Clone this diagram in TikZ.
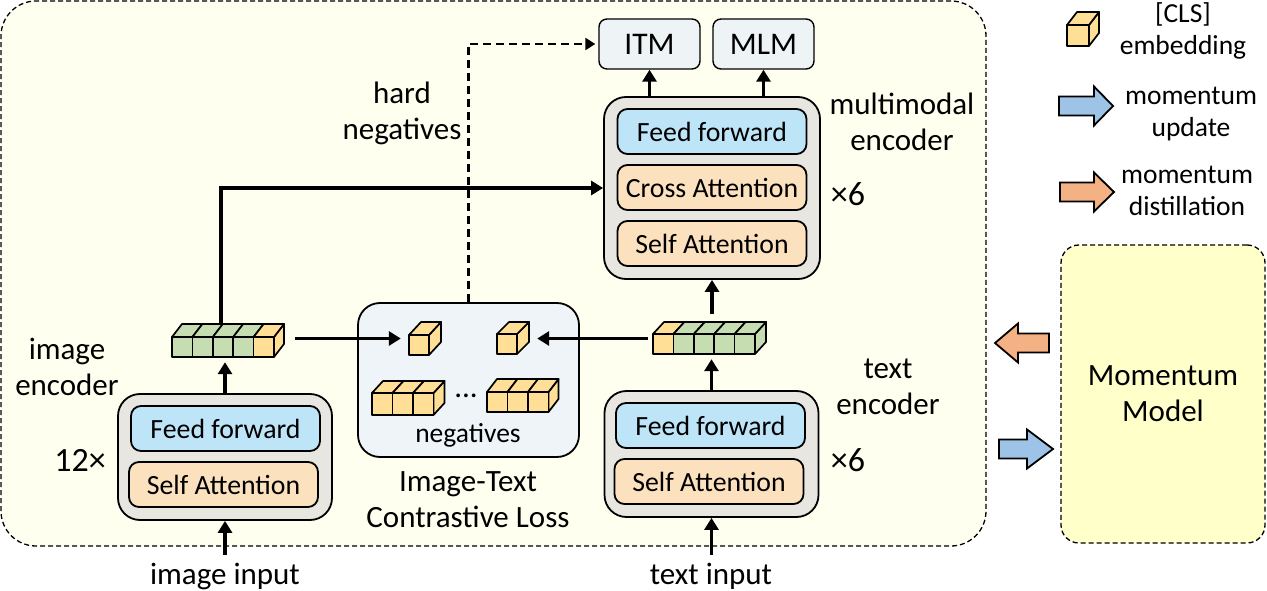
\documentclass[tikz,border=0pt]{standalone}
\usepackage{fontspec}
\setmainfont{Carlito}
\usetikzlibrary{arrows.meta}
\definecolor{regionbg}{HTML}{FFFFF0}
\definecolor{momentumbg}{HTML}{FFFFC9}
\definecolor{encoderbg}{HTML}{E7E6E1}
\definecolor{lossbg}{HTML}{EEF4F7}
\definecolor{headbg}{HTML}{EEF3F5}
\definecolor{feedbg}{HTML}{BEE4F8}
\definecolor{attnbg}{HTML}{FCE1BF}
\definecolor{cubeY}{HTML}{FFDF95}
\definecolor{cubeG}{HTML}{C6DDB2}
\definecolor{arrowB}{HTML}{9DC3E6}
\definecolor{arrowO}{HTML}{F4B183}
\tikzset{
  x=1pt, y=-1pt,
  lbl/.style={align=center, inner sep=0pt, font=\fontsize{31}{36}\selectfont},
  leglbl/.style={align=center, inner sep=0pt, font=\fontsize{27.5}{32}\selectfont},
  timeslbl/.style={inner sep=0pt, font=\fontsize{34}{36}\selectfont},
  enc/.style={draw, line width=1.8pt, rounded corners=22pt, fill=encoderbg, minimum width=#1, minimum height=126pt, inner sep=0pt},
  layer/.style={draw, line width=1.8pt, rounded corners=10pt, minimum width=189pt, minimum height=45pt, inner sep=0pt, font=\fontsize{27.8}{32}\selectfont},
  headbox/.style={draw, line width=1.4pt, rounded corners=8pt, fill=headbg, minimum width=101pt, minimum height=50pt, inner sep=0pt, font=\fontsize{31.5}{34}\selectfont},
  regionbox/.style={draw, line width=1.3pt, dash pattern=on 5pt off 3pt, inner sep=0pt},
  conn/.style={line width=3.8pt, -{Triangle[length=12pt,width=14pt]}},
}
% left, bottom, cell width, cell height, depth x, depth y, colours
\newcommand{\cuberow}[7]{
  \foreach \c [count=\i from 0] in {#7} {
    \pgfmathsetmacro{\xa}{#1+\i*#3}
    \pgfmathsetmacro{\xb}{\xa+#3}
    \draw[fill=\c, line width=1.7pt, line join=round] (\xb, #2) -- (\xb+#5, #2-#6) -- (\xb+#5, #2-#4-#6) -- (\xb, #2-#4) -- cycle;
    \draw[fill=\c, line width=1.7pt, line join=round] (\xa, #2-#4) -- (\xa+#5, #2-#4-#6) -- (\xb+#5, #2-#4-#6) -- (\xb, #2-#4) -- cycle;
    \draw[fill=\c, line width=1.7pt, line join=round] (\xa, #2) rectangle (\xb, #2-#4);
  }
}
% tail x, head base x, tip x, mid y, colour
\newcommand{\blockarrow}[5]{
  \draw[fill=#5, line width=1.8pt, line join=miter] (#1, #4-9.5) -- (#2, #4-9.5) -- (#2, #4-19.5) -- (#3, #4) -- (#2, #4+19.5) -- (#2, #4+9.5) -- (#1, #4+9.5) -- cycle;
}
\begin{document}
\begin{tikzpicture}
\useasboundingbox (0, 0) rectangle (1267, 591);

\node[regionbox, rounded corners=35pt, fill=regionbg, minimum width=985pt, minimum height=545pt] (region) at (493.5, 273.5) {};
\node[regionbox, rounded corners=18pt, fill=momentumbg, minimum width=204pt, minimum height=298pt, lbl] (momentum) at (1163, 394) {Momentum\\Model};

\node[enc=214pt] (imgenc) at (225, 457) {};
\node[layer, fill=feedbg] (imgfeed) at (225.5, 428.5) {Feed forward};
\node[layer, fill=attnbg] (imgself) at (223.5, 484.5) {Self Attention};

\node[enc=214pt] (txtenc) at (711.5, 454) {};
\node[layer, fill=feedbg] (txtfeed) at (710.5, 425.5) {Feed forward};
\node[layer, fill=attnbg] (txtself) at (709, 481.5) {Self Attention};

\node[enc=216pt, minimum height=182pt] (mmenc) at (712, 188) {};
\node[layer, fill=feedbg] (mmfeed) at (712, 131.5) {Feed forward};
\node[layer, fill=attnbg] (mmcross) at (712, 187.5) {Cross Attention};
\node[layer, fill=attnbg] (mmself) at (712, 243.5) {Self Attention};

\node[headbox] (itm) at (649.5, 44) {ITM};
\node[headbox] (mlm) at (763.5, 44) {MLM};

\node[draw, line width=1.8pt, rounded corners=22pt, fill=lossbg, minimum width=221pt, minimum height=154pt, inner sep=0pt] (lossbox) at (468.5, 380) {};

\node[inner sep=0pt, minimum width=112pt, minimum height=33pt] (imgrow) at (228, 340.5) {};
\cuberow{172}{357}{20.4}{20}{10}{13}{cubeG,cubeG,cubeG,cubeG,cubeY}
\node[inner sep=0pt, minimum width=113pt, minimum height=32pt] (txtrow) at (709.5, 338) {};
\cuberow{653}{354}{20.4}{20}{11}{12}{cubeY,cubeG,cubeG,cubeG,cubeG}
\node[inner sep=0pt, minimum width=32pt, minimum height=33pt] (imgcube) at (425, 338.5) {};
\cuberow{409}{355}{20}{20}{12}{13}{cubeY}
\node[inner sep=0pt, minimum width=32pt, minimum height=32pt] (txtcube) at (513, 338.5) {};
\cuberow{497}{354}{20}{20}{12}{12}{cubeY}
\cuberow{372}{415}{20.5}{22}{11}{12}{cubeY,cubeY,cubeY}
\cuberow{487}{412}{20.5}{20}{10}{13}{cubeY,cubeY,cubeY}
\cuberow{1067}{46}{22}{21}{10}{13}{cubeY}

\node[lbl] (dots) at (466, 396) {...};
\node[leglbl] (neglbl) at (468, 435) {negatives};

\coordinate (imgtap) at (221, 324);
\coordinate (imgin) at (225, 555);
\coordinate (txtin) at (711.5, 555);

\draw[conn] (imgin) -- (imgenc.south);
\draw[conn] (txtin) -- (txtenc.south);
\draw[conn] (imgenc.north) -- ([yshift=-5pt]imgenc.north |- imgrow.south);
\draw[conn] (txtenc.north) -- ([yshift=-5pt]txtenc.north |- txtrow.south);
\draw[conn] ([yshift=8pt]mmenc.south |- txtrow.north) -- (mmenc.south);
\draw[conn] (itm.south |- mmenc.north) -- (itm.south);
\draw[conn] (mlm.south |- mmenc.north) -- (mlm.south);
\draw[conn] (imgtap) |- (mmenc.west);
\draw[conn] ([xshift=11pt]imgrow.east |- imgcube.west) -- ([xshift=-8pt]imgcube.west);
\draw[conn] ([xshift=-5pt]txtrow.west |- txtcube.east) -- ([xshift=8pt]txtcube.east);
\draw[line width=2.8pt, dash pattern=on 8pt off 5pt, -{Triangle[length=10pt,width=12pt]}] (lossbox.north) |- ([xshift=-3pt]itm.west);

\node[lbl] (imglbl) at (67, 367) {image\\encoder};
\node[timeslbl] (imgtimes) at (80, 460) {12×};
\node[lbl] (hardlbl) at (402, 113) {hard\\negatives};
\node[lbl] (mmlbl) at (902, 122) {multimodal\\encoder};
\node[timeslbl] (mmtimes) at (848, 194) {×6};
\node[lbl] (txtlbl) at (888, 386.5) {text\\encoder};
\node[timeslbl] (txttimes) at (848, 460) {×6};
\node[lbl] (losslbl) at (468, 500) {Image-Text\\Contrastive Loss};
\node[lbl] (imginput) at (225, 576.5) {image input};
\node[lbl] (txtinput) at (711, 576.5) {text input};

\node[leglbl] (cls) at (1183, 31) {[CLS]\\embedding};
\node[leglbl] (updlbl) at (1191, 114) {momentum\\update};
\node[leglbl] (dstlbl) at (1187, 191) {momentum\\distillation};

\blockarrow{1059}{1094}{1113}{106}{arrowB}
\blockarrow{1060}{1094}{1114}{192}{arrowO}
\blockarrow{1049}{1018}{995}{343}{arrowO}
\blockarrow{999}{1027}{1053}{449}{arrowB}
\end{tikzpicture}
\end{document}
